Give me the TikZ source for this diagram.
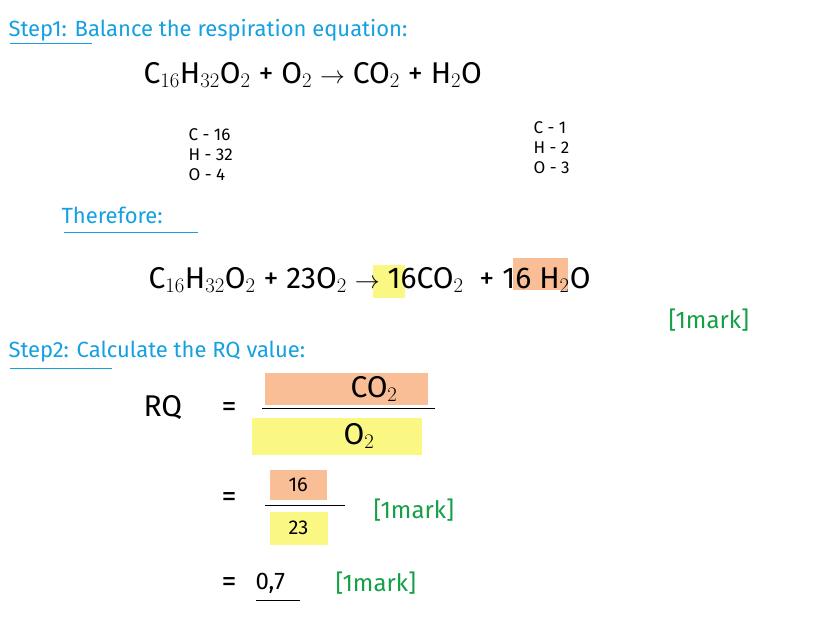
\documentclass[tikz,border=0pt]{standalone}
\usepackage{fontspec}
\setmainfont{Fira Sans}
\definecolor{stepblue}{RGB}{20,160,225}
\definecolor{markgreen}{RGB}{20,160,70}
\definecolor{hlorange}{RGB}{250,190,150}
\definecolor{hlyellow}{RGB}{250,248,130}
\tikzset{
  heading/.style={text=stepblue,anchor=west,font=\fontsize{22}{26}\selectfont},
  eqn/.style={anchor=west,font=\fontsize{30}{36}\selectfont},
  count/.style={anchor=west,font=\fontsize{17}{20}\selectfont},
  marknote/.style={text=markgreen,anchor=west,font=\fontsize{24}{28}\selectfont}
}
\begin{document}
\begin{tikzpicture}[x=1pt,y=-1pt]
\useasboundingbox[fill=white] (0,0) rectangle (840,616);
% step 1
\node[heading] (step1) at (5,30) {Step1: Balance the respiration equation:};
\draw[stepblue,thick] (10,43) -- (92,43);
\node[eqn] (eq1) at (140,75) {C$_{16}$H$_{32}$O$_2$ + O$_2$ $\rightarrow$ CO$_2$ + H$_2$O};
\node[count,align=left] (left) at (185,155) {C - 16\\H - 32\\O - 4};
\node[count,align=left] (right) at (530,148) {C - 1\\H - 2\\O - 3};
\node[heading] (therefore) at (58,215) {Therefore:};
\draw[stepblue,thick] (64,232) -- (198,232);
% balanced equation
\fill[hlyellow] (373,265) rectangle (405,298);
\fill[hlorange] (513,258) rectangle (568,290);
\node[eqn] (eq2) at (145,280) {C$_{16}$H$_{32}$O$_2$ + 23O$_2$ $\rightarrow$ 16CO$_2$ \ + 16 H$_2$O};
\node[marknote] (mark1) at (665,320) {[1mark]};
% step 2
\node[heading] (step2) at (5,352) {Step2: Calculate the RQ value:};
\draw[stepblue,thick] (10,368) -- (112,368);
\node[eqn] (rq) at (140,408) {RQ};
\node[eqn] (eqa) at (218,410) {=};
\fill[hlorange] (265,373) rectangle (428,405);
\fill[hlyellow] (252,418) rectangle (422,455);
\node[eqn] (num) at (347,389) {CO$_2$};
\node[eqn] (den) at (340,436) {O$_2$};
\draw[thick] (262,408) -- (435,408);
\node[eqn] (eqb) at (218,500) {=};
\fill[hlorange] (270,470) rectangle (327,500);
\fill[hlyellow] (270,512) rectangle (328,545);
\node[count,font=\fontsize{20}{24}\selectfont] (n16) at (285,485) {16};
\node[count,font=\fontsize{20}{24}\selectfont] (n23) at (285,528) {23};
\draw[thick] (265,505) -- (345,505);
\node[marknote] (mark2) at (370,510) {[1mark]};
\node[eqn] (eqc) at (218,585) {=};
\node[eqn,font=\fontsize{24}{28}\selectfont] (res) at (252,583) {0,7};
\draw[thick] (256,600) -- (300,600);
\node[marknote] (mark3) at (332,583) {[1mark]};
\end{tikzpicture}
\end{document}
